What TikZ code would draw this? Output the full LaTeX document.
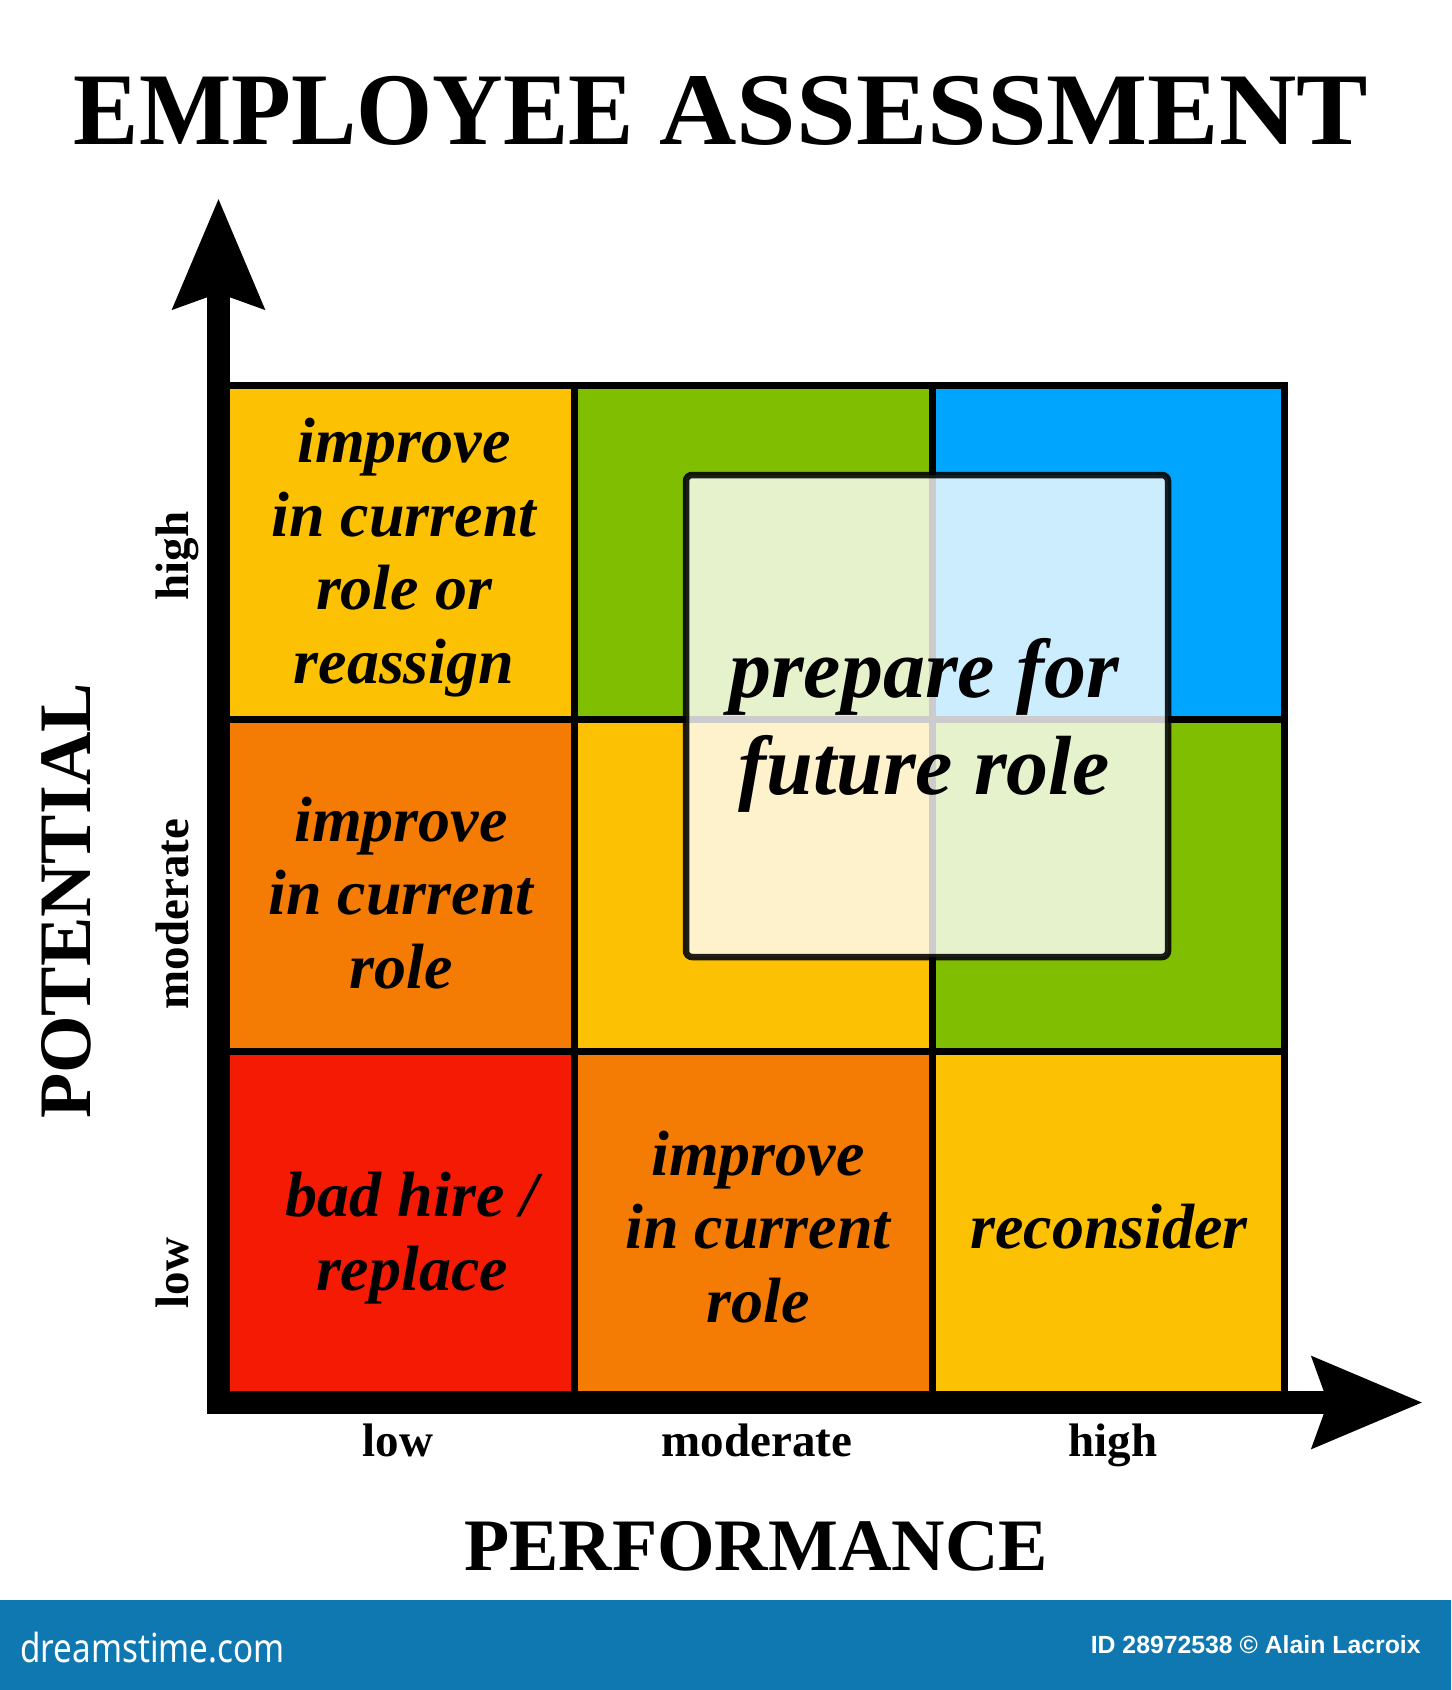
\documentclass[tikz,border=0pt]{standalone}
\usepackage{fontspec}
\setmainfont{Liberation Serif}
\newfontfamily\logofont{Noto Sans}
\newfontfamily\idfont{Liberation Sans}
\usetikzlibrary{arrows.meta}
\definecolor{cellyellow}{HTML}{FDC104}
\definecolor{cellgreen}{HTML}{7FBE00}
\definecolor{cellblue}{HTML}{00A5FE}
\definecolor{cellorange}{HTML}{F47C04}
\definecolor{cellred}{HTML}{F51A03}
\definecolor{bandblue}{HTML}{1078B0}
\tikzset{
  cell/.style={draw=black, line width = 3.5pt, outer sep=0pt, inner sep=0pt},
  axisline/.style={line width = 11.5pt, {Stealth[length=54.5pt, width=44pt, inset=7pt]}-{Stealth[length=54.5pt, width=44pt, inset=7pt]}},
  advice/.style={font=\bfseries\itshape\fontsize{32}{36.7}\selectfont, align=center, anchor=base, inner sep=0pt},
  level/.style={font=\bfseries\fontsize{23.5}{26}\selectfont, anchor=base, inner sep=0pt},
  axisname/.style={font=\bfseries\fontsize{37}{40}\selectfont, anchor=base, inner sep=0pt}
}
\begin{document}
\begin{tikzpicture}[x=0.5pt, y=-0.5pt]
  \useasboundingbox (0, 0) rectangle (1451, 1690);
    %%band
    \fill[bandblue] (0, 1600) rectangle (1451, 1690);
    \node[anchor=base west, inner sep=0pt, text=white, font=\logofont\fontsize{20}{22}\selectfont] (site) at (20, 1662){\scalebox{.83}[1]{dreamstime.com}};
    \node[anchor=base east, inner sep=0pt, text=white, font=\idfont\bfseries\fontsize{12.4}{14}\selectfont] (photoid) at (1421, 1653){ID 28972538 © Alain Lacroix};

    %%title
    \node[anchor=base, inner sep=0pt, font=\bfseries\fontsize{51.5}{56}\selectfont] (title) at (721, 145){\scalebox{.95}[1]{EMPLOYEE} \scalebox{1.04}[1]{ASSESSMENT}};

    %%row 1
    \node[cell, fill=cellyellow, minimum width=174pt, minimum height=166.75pt] (c13) at (400.5, 552.25){};
    \node[cell, fill=cellgreen, minimum width=178.75pt, minimum height=166.75pt] (c23) at (753.25, 552.25){};
    \node[cell, fill=cellblue, minimum width=176pt, minimum height=166.75pt] (c33) at (1108, 552.25){};
    %%row 2
    \node[cell, fill=cellorange, minimum width=174pt, minimum height=166pt] (c12) at (400.5, 885){};
    \node[cell, fill=cellyellow, minimum width=178.75pt, minimum height=166pt] (c22) at (753.25, 885){};
    \node[cell, fill=cellgreen, minimum width=176pt, minimum height=166pt] (c32) at (1108, 885){};
    %%row 3
    \node[cell, fill=cellred, minimum width=174pt, minimum height=171.75pt] (c11) at (400.5, 1222.75){};
    \node[cell, fill=cellorange, minimum width=178.75pt, minimum height=171.75pt] (c21) at (753.25, 1222.75){};
    \node[cell, fill=cellyellow, minimum width=176pt, minimum height=171.75pt] (c31) at (1108, 1222.75){};

    %%axes
    \coordinate (ytip) at (218.5, 198);
    \coordinate (xtip) at (1423, 1402.5);
    \draw[axisline] (ytip) |- (xtip);

    %%window
    \node[draw=black, draw opacity=.88, fill=white, fill opacity=.8, line width = 3.25pt, rounded corners=3pt, outer sep=0pt, minimum width=241pt, minimum height=241pt] (window) at (927, 716){};

    %%cell texts
    \node[advice] (t13) at (404, 683){improve\\in current\\role or\\reassign};
    \node[advice] (t12) at (401, 988){improve\\in current\\role};
    \node[advice] (t11) at (412, 1290){bad hire /\\replace};
    \node[advice] (t21) at (758, 1322){improve\\in current\\role};
    \node[advice] (t31) at (1109, 1248){reconsider};
    \node[advice, font=\bfseries\itshape\fontsize{42}{48.25}\selectfont] (t23) at (924, 794){prepare for\\future role};

    %%x labels
    \node[level] (xlow) at (398, 1456){low};
    \node[level] (xmoderate) at (757, 1456){moderate};
    \node[level] (xhigh) at (1113, 1456){high};
    \node[axisname] (xname) at (756, 1570){PERFORMANCE};

    %%y labels
    \node[level, rotate=90] (ylow) at (188.5, 1273){low};
    \node[level, rotate=90] (ymoderate) at (188.5, 914){moderate};
    \node[level, rotate=90] (yhigh) at (188.5, 556){high};
    \node[axisname, rotate=90] (yname) at (90, 901){POTENTIAL};
\end{tikzpicture}
\end{document}
